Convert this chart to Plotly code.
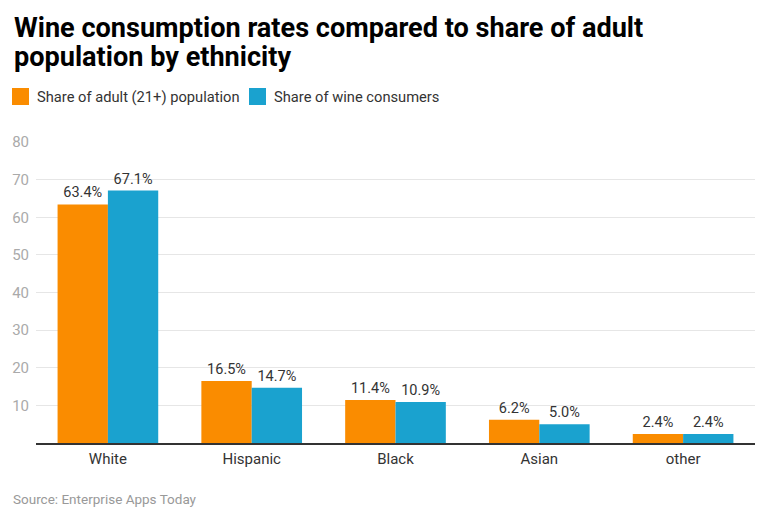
import plotly.graph_objects as go

categories = ["White", "Hispanic", "Black", "Asian", "other"]
adult_share = [63.4, 16.5, 11.4, 6.2, 2.4]
wine_share = [67.1, 14.7, 10.9, 5.0, 2.4]
series_names = ["Share of adult (21+) population", "Share of wine consumers"]
tick_vals = [10, 20, 30, 40, 50, 60, 70, 80]
colors = ["#FA8C00", "#1AA2CF"]

W, H = 768, 520
ML, MR, MT, MB = 36, 13, 142, 77
PW, PH = W - ML - MR, H - MT - MB


def px_x(x):
    return (x - ML) / PW


def px_y(y):
    return (H - MB - y) / PH


fig = go.Figure()
for name, vals, color in zip(series_names, [adult_share, wine_share], colors):
    fig.add_trace(go.Bar(
        x=categories, y=vals, name=name, marker_color=color,
        marker_line_width=0,
        text=[f"{v:.1f}%" for v in vals], textposition="outside",
        textfont=dict(family="Roboto", size=14.5, color="#333333"),
        cliponaxis=False, showlegend=False,
    ))

annotations = [
    dict(text="<b>Wine consumption rates compared to share of adult</b>",
         x=px_x(12), y=px_y(28), xanchor="left", yanchor="middle"),
    dict(text="<b>population by ethnicity</b>",
         x=px_x(12), y=px_y(57), xanchor="left", yanchor="middle"),
]
for a in annotations:
    a.update(xref="paper", yref="paper", showarrow=False,
             font=dict(family="Roboto", size=27.1, color="#000000"))

shapes = []
legend_x = [(12, 35), (249, 272)]
for (sx, tx), name, color in zip(legend_x, series_names, colors):
    shapes.append(dict(type="rect", xref="paper", yref="paper",
                       x0=px_x(sx), x1=px_x(sx + 17), y0=px_y(88), y1=px_y(105),
                       fillcolor=color, line_width=0))
    annotations.append(dict(text=name, xref="paper", yref="paper",
                            x=px_x(tx), y=px_y(97), xanchor="left", yanchor="middle",
                            showarrow=False,
                            font=dict(family="Roboto", size=14.7, color="#333333")))

annotations.append(dict(
    text="Source: Enterprise Apps Today", xref="paper", yref="paper",
    x=px_x(11), y=px_y(499), xanchor="left", yanchor="middle", showarrow=False,
    font=dict(family="Roboto", size=13.5, color="#999999"),
))

fig.update_layout(
    width=W, height=H,
    margin=dict(l=ML, r=MR, t=MT, b=MB),
    paper_bgcolor="white", plot_bgcolor="white",
    barmode="group", bargap=0.3, bargroupgap=0,
    font=dict(family="Roboto", color="#333333"),
    showlegend=False,
    xaxis=dict(
        showgrid=False, showline=True, linecolor="#333333", linewidth=1.5,
        ticks="", tickfont=dict(family="Roboto", size=15, color="#333333"),
        ticklabelstandoff=1,
    ),
    yaxis=dict(
        range=[0, 80], tickvals=tick_vals, showgrid=True, gridcolor="#e6e6e6",
        gridwidth=1, zeroline=False, showline=False, ticks="",
        tickfont=dict(family="Roboto", size=15, color="#aaaaaa"),
        ticklabelstandoff=6,
    ),
    shapes=shapes,
    annotations=annotations,
)
fig.write_html("out.html")
